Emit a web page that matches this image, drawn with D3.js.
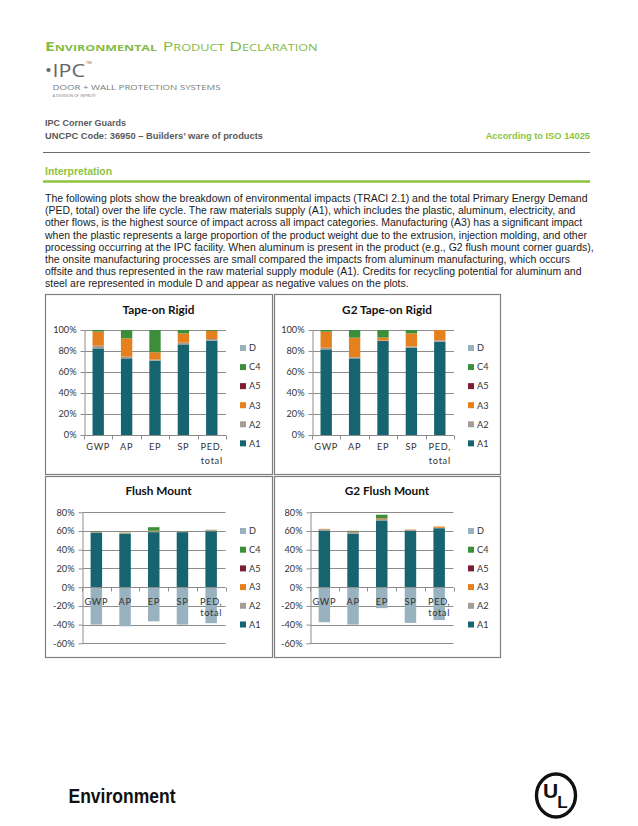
<!DOCTYPE html>
<html><head><meta charset="utf-8">
<script src="https://cdn.jsdelivr.net/npm/d3@7"></script>
<style>
html,body{margin:0;padding:0;background:#fff;}
svg{display:block;}
</style></head><body>
<svg id="page" width="638" height="826"></svg>
<script>
// ---------------- DATA ----------------
const categories = ["GWP", "AP", "EP", "SP", "PED, total"];
const seriesNames = ["A1", "A2", "A3", "A5", "C4", "D"];
const legendOrder = ["D", "C4", "A5", "A3", "A2", "A1"];
const seriesColors = ["#15646f", "#a59d95", "#e5801f", "#7b1e35", "#3c8f3a", "#98b3bf"];

const yTicksTop = [0, 20, 40, 60, 80, 100];
const yTicksBottom = [-60, -40, -20, 0, 20, 40, 60, 80];

// Tape-on Rigid (% of total)
const tapeOnRigidA1 = [82.5, 73.0, 70.8, 86.3, 89.8];
const tapeOnRigidA2 = [2.5, 1.6, 1.0, 1.6, 1.6];
const tapeOnRigidA3 = [13.5, 17.5, 7.0, 8.9, 7.9];
const tapeOnRigidA5 = [0, 0, 0, 0, 0];
const tapeOnRigidC4 = [1.5, 7.9, 21.2, 3.2, 0.7];
const tapeOnRigidD  = [0, 0, 0, 0, 0];

// G2 Tape-on Rigid
const g2TapeOnRigidA1 = [81.6, 73.0, 89.5, 83.2, 88.9];
const g2TapeOnRigidA2 = [1.5, 1.0, 0.5, 1.2, 1.3];
const g2TapeOnRigidA3 = [15.3, 18.7, 2.8, 12.4, 9.8];
const g2TapeOnRigidA5 = [0, 0, 0, 0, 0];
const g2TapeOnRigidC4 = [1.6, 7.3, 7.2, 3.2, 0.0];
const g2TapeOnRigidD  = [0, 0, 0, 0, 0];

// Flush Mount
const flushMountA1 = [58.1, 57.0, 58.8, 58.8, 59.8];
const flushMountA2 = [0.8, 0.8, 1.0, 0.6, 0.8];
const flushMountA3 = [0.3, 0.3, 0.5, 0.2, 0.4];
const flushMountA5 = [0, 0, 0, 0, 0];
const flushMountC4 = [0.6, 0.3, 3.8, 0.2, 0.3];
const flushMountD  = [-40.0, -41.8, -36.5, -40.0, -38.5];

// G2 Flush Mount
const g2FlushMountA1 = [60.6, 57.0, 71.3, 60.2, 63.0];
const g2FlushMountA2 = [1.0, 2.2, 1.5, 1.0, 0.5];
const g2FlushMountA3 = [0.7, 0.5, 0.9, 0.4, 1.3];
const g2FlushMountA5 = [0, 0, 0, 0, 0];
const g2FlushMountC4 = [0.0, 0.5, 3.7, 0.0, 0.0];
const g2FlushMountD  = [-37.5, -40.0, -22.4, -38.2, -35.2];

const paragraphLines = [
  "The following plots show the breakdown of environmental impacts (TRACI 2.1) and the total Primary Energy Demand",
  "(PED, total) over the life cycle. The raw materials supply (A1), which includes the plastic, aluminum, electricity, and",
  "other flows, is the highest source of impact across all impact categories. Manufacturing (A3) has a significant impact",
  "when the plastic represents a large proportion of the product weight due to the extrusion, injection molding, and other",
  "processing occurring at the IPC facility. When aluminum is present in the product (e.g., G2 flush mount corner guards),",
  "the onsite manufacturing processes are small compared the impacts from aluminum manufacturing, which occurs",
  "offsite and thus represented in the raw material supply module (A1). Credits for recycling potential for aluminum and",
  "steel are represented in module D and appear as negative values on the plots."
];

// ---------------- DRAWING ----------------
const svg = d3.select("#page");
svg.append("rect").attr("width", 638).attr("height", 826).attr("fill", "#fff");

const green = "#8cc43f";
const sans = "'Liberation Sans', Arial, sans-serif";

// Logo
const logo = svg.append("g").attr("font-family", "'Open Sans', sans-serif");
logo.append("text").attr("x", 45).attr("y", 51).attr("fill", "#84ba45")
  .attr("font-size", 12.5).attr("font-weight", "bold").style("font-variant", "small-caps")
  .attr("textLength", 112).attr("lengthAdjust", "spacingAndGlyphs").text("Environmental");
logo.append("text").attr("x", 162.7).attr("y", 51).attr("fill", "#84ba45")
  .attr("font-size", 12.5).style("font-variant", "small-caps")
  .attr("textLength", 155).attr("lengthAdjust", "spacingAndGlyphs").text("Product Declaration");
logo.append("circle").attr("cx", 48.5).attr("cy", 70).attr("r", 2.1).attr("fill", "#666");
logo.append("text").attr("x", 52.5).attr("y", 76.7).attr("fill", "#666").attr("font-size", 18.5)
  .attr("textLength", 32.5).attr("lengthAdjust", "spacingAndGlyphs").text("IPC");
logo.append("text").attr("x", 85.8).attr("y", 64).attr("fill", "#666").attr("font-size", 4.2).text("TM");
logo.append("text").attr("x", 52.5).attr("y", 90).attr("fill", "#7a7a7a").attr("font-size", 7)
  .attr("textLength", 168).attr("lengthAdjust", "spacingAndGlyphs").text("DOOR + WALL PROTECTION SYSTEMS");
logo.append("text").attr("x", 52.5).attr("y", 97.3).attr("fill", "#7a7a7a").attr("font-size", 4)
  .attr("textLength", 43).attr("lengthAdjust", "spacingAndGlyphs").text("A DIVISION OF INPRO\u00AE");

// Header text
const hdr = svg.append("g").attr("font-family", sans).attr("font-weight", "bold");
hdr.append("text").attr("x", 45).attr("y", 126).attr("fill", "#5a5a5a").attr("font-size", 9.3)
  .attr("textLength", 81).attr("lengthAdjust", "spacingAndGlyphs").text("IPC Corner Guards");
hdr.append("text").attr("x", 45).attr("y", 138.5).attr("fill", "#5a5a5a").attr("font-size", 9.3)
  .attr("textLength", 218).attr("lengthAdjust", "spacingAndGlyphs").text("UNCPC Code: 36950 \u2013 Builders\u2019 ware of products");
hdr.append("text").attr("x", 590).attr("y", 138.5).attr("fill", green).attr("font-size", 9.3)
  .attr("text-anchor", "end").text("According to ISO 14025");
svg.append("line").attr("x1", 43).attr("x2", 590).attr("y1", 152.5).attr("y2", 152.5).attr("stroke", "#6d6d6d").attr("stroke-width", 1);
hdr.append("text").attr("x", 45).attr("y", 174.5).attr("fill", green).attr("font-size", 10)
  .attr("textLength", 67).attr("lengthAdjust", "spacingAndGlyphs").text("Interpretation");
svg.append("line").attr("x1", 43).attr("x2", 590).attr("y1", 181.5).attr("y2", 181.5).attr("stroke", green).attr("stroke-width", 2.5);

// Paragraph: one uniform font size, fitted so the first line spans the text column
const para = svg.append("g").attr("font-family", sans).attr("fill", "#1b1b1b");
const probe = para.append("text").attr("font-size", 10).text(paragraphLines[0]);
const w0 = probe.node().getComputedTextLength();
probe.remove();
const paraSize = 10 * 543 / w0;
paragraphLines.forEach((t, i) => {
  para.append("text").attr("x", 45).attr("y", 202 + i * 12.2).attr("font-size", paraSize).text(t);
});

// Footer
svg.append("text").attr("x", 68.5).attr("y", 803).attr("font-family", "'Liberation Sans Narrow', 'Liberation Sans', sans-serif")
  .attr("font-weight", "bold").attr("font-size", 20).attr("fill", "#111")
  .attr("textLength", 107).attr("lengthAdjust", "spacingAndGlyphs").text("Environment");
const ul = svg.append("g").attr("font-family", "'Liberation Sans Narrow', sans-serif").attr("font-weight", "bold").attr("fill", "#111");
ul.append("ellipse").attr("cx", 556).attr("cy", 795.5).attr("rx", 19.5).attr("ry", 21.5)
  .attr("fill", "none").attr("stroke", "#111").attr("stroke-width", 3.4);
ul.append("text").attr("x", 550.5).attr("y", 798).attr("text-anchor", "middle").attr("font-size", 21).text("U");
ul.append("text").attr("x", 562.5).attr("y", 808).attr("text-anchor", "middle").attr("font-size", 17).text("L");

// Charts
const chartFont = "Lato, 'Open Sans', sans-serif";
const gridColor = "#8c8c8c";

function drawChart(o) {
  const g = svg.append("g").attr("font-family", chartFont);
  g.append("rect").attr("x", o.panel[0] + 0.5).attr("y", o.panel[1] + 0.5)
    .attr("width", o.panel[2] - o.panel[0]).attr("height", o.panel[3] - o.panel[1])
    .attr("fill", "#fff").attr("stroke", "#7f7f7f").attr("stroke-width", 1.2);

  const x = d3.scaleBand().domain(categories).range([o.plotLeft + o.dx, o.plotRight + o.dx]);
  const y = d3.scaleLinear().domain(o.yDomain).range(o.yRange);
  const Y = v => Math.round(y(v)) + 0.5;
  const x0 = Math.round(x.range()[0]) + 0.5, x1 = x.range()[1];

  g.selectAll("line.grid").data(o.ticks.filter(t => t !== 0)).join("line").attr("class", "grid")
    .attr("x1", x0).attr("x2", x1).attr("y1", d => Y(d)).attr("y2", d => Y(d))
    .attr("stroke", gridColor).attr("stroke-width", 1);

  const rows = categories.map((c, i) => {
    const r = { cat: c };
    seriesNames.forEach((s, j) => { r[s] = o.series[j][i]; });
    return r;
  });
  const layers = d3.stack().keys(seriesNames).offset(d3.stackOffsetDiverging)(rows);
  const bw = x.bandwidth() / 2.5;
  g.selectAll("g.layer").data(layers).join("g").attr("class", "layer")
    .attr("fill", (d, i) => seriesColors[i])
    .selectAll("rect").data(d => d).join("rect")
    .attr("x", d => x(d.data.cat) + (x.bandwidth() - bw) / 2)
    .attr("width", bw)
    .attr("y", d => y(Math.max(d[0], d[1])))
    .attr("height", d => Math.abs(y(d[0]) - y(d[1])));

  const yAxis = d3.axisLeft(y).tickValues(o.ticks).tickFormat(d => d + "%")
    .tickSize(4).tickSizeOuter(0).tickPadding(4);
  const ya = g.append("g").attr("transform", `translate(${x0},0)`).call(yAxis);
  ya.select(".domain").attr("stroke", gridColor);
  ya.selectAll(".tick line").attr("stroke", gridColor);
  ya.selectAll(".tick text").attr("font-family", chartFont).attr("font-size", 9.2).attr("fill", "#333");

  g.append("line").attr("x1", x0).attr("x2", x1).attr("y1", Y(0)).attr("y2", Y(0)).attr("stroke", gridColor);
  const bounds = categories.map(c => x(c)).concat([x.range()[1]]);
  g.selectAll("line.xt").data(bounds).join("line").attr("class", "xt")
    .attr("x1", d => Math.round(d) + 0.5).attr("x2", d => Math.round(d) + 0.5)
    .attr("y1", Y(0)).attr("y2", Y(0) + 4).attr("stroke", gridColor);

  categories.forEach(c => {
    const parts = c.split(" ");
    parts.forEach((p, k) => {
      g.append("text").attr("x", x(c) + x.bandwidth() / 2).attr("y", o.labelY[k])
        .attr("text-anchor", "middle").attr("font-size", 9.2).attr("fill", "#333")
        .attr("letter-spacing", 0.7).text(p);
    });
  });

  legendOrder.forEach((s, i) => {
    const cy = o.legY0 + i * o.legDy;
    g.append("rect").attr("x", o.legX + o.dx).attr("y", cy - 3).attr("width", 6).attr("height", 6)
      .attr("fill", seriesColors[seriesNames.indexOf(s)]);
    g.append("text").attr("x", o.legX + o.dx + 9).attr("y", cy + 3.3).attr("font-size", 9.2)
      .attr("fill", "#333").text(s);
  });

  g.append("text").attr("x", (o.panel[0] + o.panel[2]) / 2).attr("y", o.titleY)
    .attr("text-anchor", "middle").attr("font-weight", "bold").attr("font-size", 11.8)
    .attr("fill", "#111").text(o.title);
}

const topCfg = { plotLeft: 84, plotRight: 226, yDomain: [0, 100], yRange: [435, 330], ticks: yTicksTop,
  labelY: [450, 464], legX: 240, legY0: 348, legDy: 19.07, titleY: 314 };
const botCfg = { plotLeft: 82, plotRight: 225.5, yDomain: [-60, 80], yRange: [643.3, 512.3], ticks: yTicksBottom,
  labelY: [605, 616], legX: 240, legY0: 531, legDy: 18.7, titleY: 495 };

drawChart(Object.assign({}, topCfg, { dx: 0, panel: [45, 294, 272, 474], title: "Tape-on Rigid",
  series: [tapeOnRigidA1, tapeOnRigidA2, tapeOnRigidA3, tapeOnRigidA5, tapeOnRigidC4, tapeOnRigidD] }));
drawChart(Object.assign({}, topCfg, { dx: 228, panel: [274, 294, 500, 474], title: "G2 Tape-on Rigid",
  series: [g2TapeOnRigidA1, g2TapeOnRigidA2, g2TapeOnRigidA3, g2TapeOnRigidA5, g2TapeOnRigidC4, g2TapeOnRigidD] }));
drawChart(Object.assign({}, botCfg, { dx: 0, panel: [45, 476, 272, 657], title: "Flush Mount",
  series: [flushMountA1, flushMountA2, flushMountA3, flushMountA5, flushMountC4, flushMountD] }));
drawChart(Object.assign({}, botCfg, { dx: 228, panel: [274, 476, 500, 657], title: "G2 Flush Mount",
  series: [g2FlushMountA1, g2FlushMountA2, g2FlushMountA3, g2FlushMountA5, g2FlushMountC4, g2FlushMountD] }));
</script>
</body></html>
